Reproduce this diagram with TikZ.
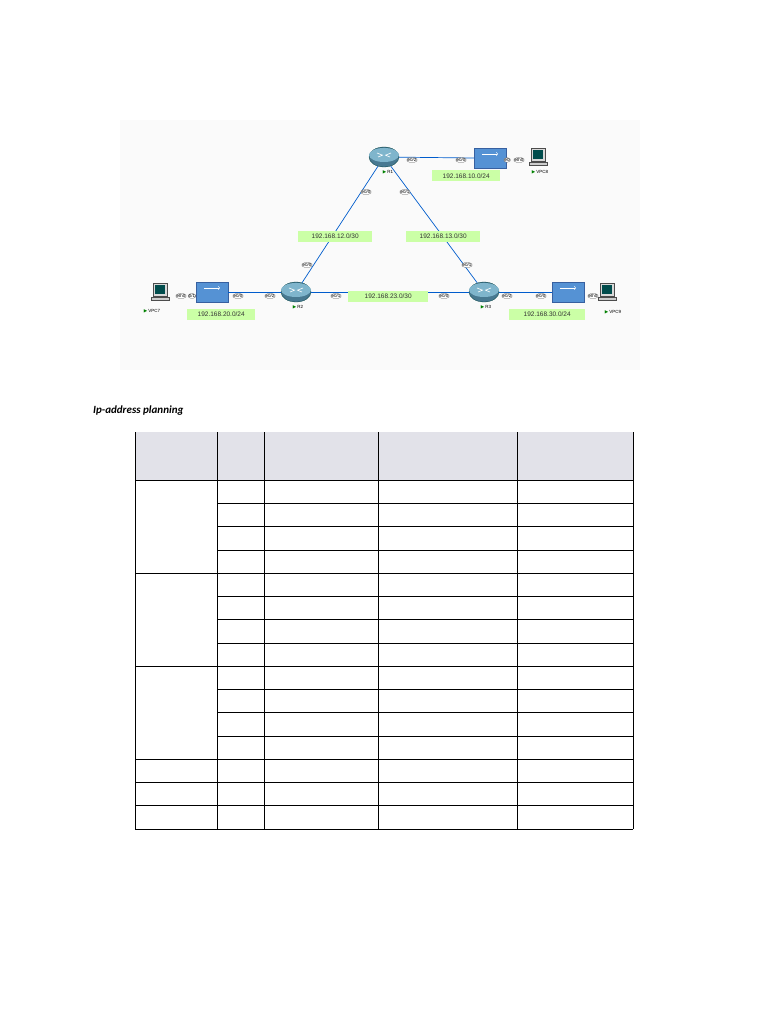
\documentclass[tikz,border=0pt]{standalone}
\usepackage{fontspec}
\usetikzlibrary{shapes.geometric}
\setmainfont{Liberation Sans}
\newfontfamily\calib{Carlito}
\newfontfamily\djv{DejaVu Sans}
\newcommand{\gtri}{\textcolor{green!50!black}{\djv ▶}}
\begin{document}
\begin{tikzpicture}[x=1pt,y=-1pt,
 ifl/.style={draw=gray!70!black,fill=white,rounded corners=2.5pt,inner sep=0.6pt,font=\fontsize{4.5}{5}\selectfont,line width=0.3pt},
 net/.style={fill=green!45!lime!35,inner sep=1pt,font=\fontsize{6.5}{7}\selectfont,anchor=west,minimum height=11pt,text=black!80},
 link/.style={draw=blue!55!cyan!80!black,line width=0.7pt},
 dlab/.style={font=\fontsize{4.5}{5}\selectfont,inner sep=0pt},
 swbox/.style={fill=cyan!55!blue!70,draw=cyan!40!blue!80!black,line width=0.3pt,minimum width=32pt,minimum height=20pt,inner sep=0pt},
 cell/.style={draw=black,line width=0.6pt}]
\useasboundingbox (0,0) rectangle (768,1024);
\fill[white] (0,0) rectangle (768,1024);
\fill[gray!4] (120,120) rectangle (640,370);
% routers
\foreach \n/\x/\y in {R1/384/157,R2/296/292,R3/484/292}{
 \node[ellipse,minimum width=30pt,minimum height=20pt,inner sep=0pt,fill=cyan!30!teal!80!black,draw=teal!50!black,line width=0.3pt] (\n) at (\x,\y) {};
 \fill[cyan!30!teal!60!white] (\x,\y-2) ellipse (15pt and 7pt);
 \draw[white,line width=0.6pt] (\x-7,\y-4)--(\x-2,\y-2) (\x+7,\y-4)--(\x+2,\y-2) (\x-6,\y)--(\x-1,\y-2) (\x+6,\y)--(\x+1,\y-2);
}
\node[dlab] (lR1) at (388,172) {\gtri{} R1};
\node[dlab] (lR2) at (298,307) {\gtri{} R2};
\node[dlab] (lR3) at (486,307) {\gtri{} R3};
% switches
\node[swbox] (S8) at (490,158) {};
\node[swbox] (S7) at (212,292) {};
\node[swbox] (S9) at (568,292) {};
\foreach \s in {S8,S7,S9}{\draw[white,->,line width=0.5pt] ([xshift=-8pt,yshift=4pt]\s.center)--([xshift=8pt,yshift=4pt]\s.center);}
% PCs
\foreach \p/\x/\y in {P8/538/155,P7/160/290,P9/607/290}{
 \node[fill=gray!30,draw=gray!60!black,minimum width=14pt,minimum height=13pt,inner sep=0pt,line width=0.3pt] (\p) at (\x,\y) {};
 \fill[teal!60!black] (\x-5,\y-5) rectangle (\x+5,\y+4);
 \fill[gray!40,draw=gray!60!black,line width=0.3pt] (\x-9,\y+7) rectangle (\x+9,\y+10);
}
\node[dlab] (lP8) at (540,172) {\gtri{} VPC8};
\node[dlab] (lP7) at (152,311) {\gtri{} VPC7};
\node[dlab] (lP9) at (613,312) {\gtri{} VPC9};
% links
\draw[link] (R1)--(S8.west);
\draw[link] (R1)--(R2);
\draw[link] (R1)--(R3);
\draw[link] (R2)--(R3);
\draw[link] (S7.east)--(R2);
\draw[link] (R3)--(S9.west);
% interface labels
\node[ifl] at (412,160) {e0/2};
\node[ifl] at (461,160) {e0/0};
\node[ifl] at (507,160) {e0};
\node[ifl] at (519,160) {eth0};
\node[ifl] at (366,192) {e0/0};
\node[ifl] at (405,192) {e0/1};
\node[ifl] at (307,265) {e0/0};
\node[ifl] at (467,265) {e0/1};
\node[ifl] at (336,296) {e0/1};
\node[ifl] at (444,296) {e0/0};
\node[ifl] at (507,296) {e0/2};
\node[ifl] at (541,296) {e0/0};
\node[ifl] at (593,296) {eth0};
\node[ifl] at (181,296) {eth0};
\node[ifl] at (192,296) {0/1};
\node[ifl] at (238,296) {e0/0};
\node[ifl] at (270,296) {e0/2};
% networks
\node[net,minimum width=68pt] at (432,176) {192.168.10.0/24};
\node[net,minimum width=74pt] at (298,236.5) {192.168.12.0/30};
\node[net,minimum width=74pt] at (406,236.5) {192.168.13.0/30};
\node[net,minimum width=80pt] at (348,296) {192.168.23.0/30};
\node[net,minimum width=68pt] at (187,314.5) {192.168.20.0/24};
\node[net,minimum width=76pt] at (509,314.5) {192.168.30.0/24};
% title
\node[anchor=west,inner sep=0pt,font=\calib\bfseries\itshape\fontsize{11}{12}\selectfont] (title) at (93,411) {Ip-address planning};
% table
\fill[blue!15!gray!20] (135,432) rectangle (633,480);
\def\rh{23.27}
\foreach \i in {0,...,14}{\draw[cell] (217,480+\i*\rh)--(633,480+\i*\rh);}
\foreach \i in {0,4,8,12,13,14,15}{\draw[cell] (135,480+\i*\rh)--(217,480+\i*\rh);}
\draw[cell] (217,829)--(633,829);
\foreach \x in {135,217,264,378,517,633}{\draw[cell] (\x,432)--(\x,829);}
\end{tikzpicture}
\end{document}
